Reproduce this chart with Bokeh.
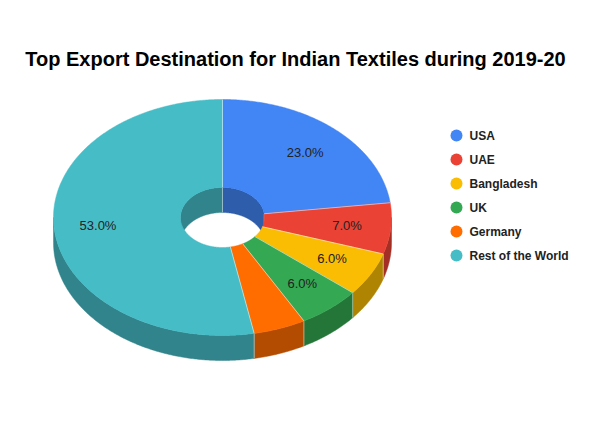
import numpy as np
from bokeh.plotting import figure
from bokeh.models import Range1d
from bokeh.core.properties import value
from bokeh.embed import file_html
from bokeh.resources import INLINE

# ---- data ----
title_text = "Top Export Destination for Indian Textiles during 2019-20"
categories = ["USA", "UAE", "Bangladesh", "UK", "Germany", "Rest of the World"]
shares = [23.0, 7.0, 6.0, 6.0, 5.0, 53.0]
colors = ["#4285F4", "#EA4335", "#FBBC04", "#34A853", "#FF6D01", "#46BDC6"]
side_colors = ["#2E5DAB", "#A42F25", "#B08403", "#247638", "#B34C01", "#31848B"]

# ---- geometry (pixel-like data space) ----
CX, CY, RX, RY = 222.0, 217.0, 169.0, 118.0
HRX, HRY = 42.0, 30.0
DEPTH = 25.0
FONT = value("Liberation Sans")


def ell(theta, rx, ry, dy=0.0):
    t = np.radians(theta)
    return CX + rx * np.sin(t), CY - ry * np.cos(t) + dy


def arc(a, b):
    n = max(4, int(abs(b - a) * 2))
    return np.linspace(a, b, n)


total = sum(shares)
bounds = np.concatenate([[0.0], np.cumsum(shares) / total * 360.0])

p = figure(width=584, height=424, x_range=Range1d(0, 584), y_range=Range1d(424, 0),
           min_border=0, toolbar_location=None, output_backend="svg",
           x_axis_location=None, y_axis_location=None)
p.grid.visible = False
p.outline_line_color = None
p.background_fill_color = "white"

# outer side walls (front half)
wx, wy, wc = [], [], []
for i in range(len(shares)):
    lo, hi = max(bounds[i], 90.0), min(bounds[i + 1], 270.0)
    if lo < hi:
        t = arc(lo, hi)
        x0, y0 = ell(t, RX, RY)
        x1, y1 = ell(t[::-1], RX, RY, DEPTH)
        wx.append(np.concatenate([x0, x1]).tolist())
        wy.append(np.concatenate([y0, y1]).tolist())
        wc.append(side_colors[i])
p.patches(wx, wy, fill_color=wc, line_color=wc, line_width=0.5)

# inner hole walls (back half)
ix, iy, ic = [], [], []
for i in range(len(shares)):
    for off in (0.0, -360.0):
        lo, hi = max(bounds[i] + off, -90.0), min(bounds[i + 1] + off, 90.0)
        if lo < hi:
            t = arc(lo, hi)
            x0, y0 = ell(t, HRX, HRY)
            x1, y1 = ell(t[::-1], HRX, HRY, DEPTH)
            ix.append(np.concatenate([x0, x1]).tolist())
            iy.append(np.concatenate([y0, y1]).tolist())
            ic.append(side_colors[i])
p.patches(ix, iy, fill_color=ic, line_color=ic, line_width=0.5)

# separators on walls
sx0, sy0, sx1, sy1 = [], [], [], []
for b in bounds[:-1]:
    if 90.0 < b < 270.0:
        x, y = ell(b, RX, RY)
        sx0.append(x); sy0.append(y); sx1.append(x); sy1.append(y + DEPTH)
    bb = b if b <= 180 else b - 360
    if -90.0 < bb < 90.0:
        x, y = ell(bb, HRX, HRY)
        sx0.append(x); sy0.append(y); sx1.append(x); sy1.append(y + DEPTH)
p.segment(sx0, sy0, sx1, sy1, line_color="white", line_alpha=0.45, line_width=1)

# top faces
tx, ty = [], []
for i in range(len(shares)):
    t = arc(bounds[i], bounds[i + 1])
    x0, y0 = ell(t, RX, RY)
    x1, y1 = ell(t[::-1], HRX, HRY)
    tx.append(np.concatenate([x0, x1]).tolist())
    ty.append(np.concatenate([y0, y1]).tolist())
p.patches(tx, ty, fill_color=colors, line_color=colors, line_width=0.5)

# radial separators on top face
rx0, ry0 = ell(bounds[:-1], HRX, HRY)
rx1, ry1 = ell(bounds[:-1], RX, RY)
p.segment(rx0, ry0, rx1, ry1, line_color="white", line_alpha=0.5, line_width=1)

# slice labels
mids = (bounds[:-1] + bounds[1:]) / 2.0
lx, ly, lt = [], [], []
for i, s in enumerate(shares):
    if s / total * 100 > 5.0:
        x, y = ell(mids[i], RX * 0.74, RY * 0.73)
        lx.append(x); ly.append(y); lt.append(f"{s / total * 100:.1f}%")
p.text(lx, ly, text=lt, text_font=FONT, text_font_size="13px", text_color="#222222",
       text_align="center", text_baseline="middle")

# legend
leg_y = [135 + 24 * i for i in range(len(categories))]
p.scatter([456] * len(categories), leg_y, size=12, marker="circle",
          fill_color=colors, line_color=None)
p.text([469] * len(categories), leg_y, text=categories, text_font=FONT,
       text_font_size="12px", text_font_style="bold", text_color="#222222",
       text_align="left", text_baseline="middle")

# title
p.text([295], [58], text=[title_text], text_font=FONT, text_font_size="20px",
       text_font_style="bold", text_color="#000000", text_align="center",
       text_baseline="middle")

open("out.html", "w").write(file_html(p, INLINE))
